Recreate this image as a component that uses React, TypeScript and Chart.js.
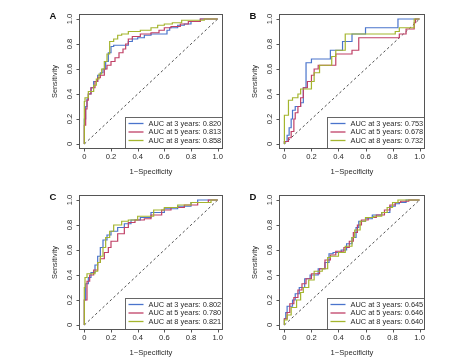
import React, { useEffect, useRef } from "react";
import { Chart, registerables } from "chart.js";

Chart.register(...registerables);

// ---------- data ----------
const tickValues = [0, 0.2, 0.4, 0.6, 0.8, 1.0];
const tickLabels = ["0", "0.2", "0.4", "0.6", "0.8", "1.0"];
const xTitle = "1\u2212Specificity";
const yTitle = "Sensitivity";
const seriesLabels = ["AUC at 3 years", "AUC at 5 years", "AUC at 8 years"];
const seriesColors = ["#4a74cc", "#c04066", "#a4b52e"];
const panelLetters = ["A", "B", "C", "D"];

const aucA = ["0.820", "0.813", "0.858"];
const aucB = ["0.753", "0.678", "0.732"];
const aucC = ["0.802", "0.780", "0.821"];
const aucD = ["0.645", "0.646", "0.640"];

type P = [number, number];

// Each pair: [1-specificity, sensitivity]
const rocA3: P[] = [[0,0],[0.01,0.2],[0.02,0.3],[0.03,0.36],[0.05,0.4],[0.07,0.45],[0.1,0.5],[0.12,0.55],[0.14,0.57],[0.16,0.6],[0.18,0.66],[0.2,0.73],[0.22,0.78],[0.33,0.79],[0.36,0.82],[0.4,0.84],[0.45,0.85],[0.5,0.87],[0.62,0.88],[0.64,0.91],[0.7,0.93],[0.75,0.95],[0.8,0.96],[0.87,0.98],[1,1]];
const rocA5: P[] = [[0,0],[0.01,0.15],[0.02,0.28],[0.03,0.35],[0.05,0.4],[0.08,0.45],[0.1,0.5],[0.12,0.53],[0.15,0.55],[0.17,0.6],[0.2,0.63],[0.23,0.66],[0.26,0.69],[0.29,0.73],[0.31,0.76],[0.33,0.8],[0.36,0.84],[0.42,0.86],[0.5,0.88],[0.56,0.89],[0.6,0.91],[0.65,0.93],[0.72,0.94],[0.78,0.96],[0.87,0.98],[1,1]];
const rocA8: P[] = [[0,0],[0.005,0.34],[0.03,0.37],[0.07,0.42],[0.09,0.47],[0.11,0.52],[0.13,0.56],[0.15,0.6],[0.17,0.66],[0.19,0.72],[0.22,0.82],[0.25,0.84],[0.28,0.87],[0.33,0.88],[0.42,0.9],[0.5,0.91],[0.55,0.93],[0.6,0.95],[0.66,0.96],[0.73,0.97],[0.9,0.99],[1,1]];

const rocB3: P[] = [[0,0],[0.02,0.02],[0.035,0.07],[0.05,0.13],[0.06,0.2],[0.08,0.27],[0.12,0.3],[0.14,0.33],[0.16,0.45],[0.2,0.65],[0.34,0.68],[0.43,0.75],[0.5,0.82],[0.6,0.88],[0.84,0.93],[1,1]];
const rocB5: P[] = [[0,0],[0.03,0.02],[0.05,0.05],[0.07,0.1],[0.08,0.2],[0.1,0.25],[0.12,0.3],[0.14,0.37],[0.17,0.45],[0.2,0.5],[0.22,0.55],[0.25,0.6],[0.38,0.63],[0.5,0.72],[0.55,0.75],[0.85,0.85],[0.9,0.88],[0.96,0.92],[0.97,0.97],[1,1]];
const rocB8: P[] = [[0,0],[0.03,0.23],[0.06,0.35],[0.1,0.37],[0.12,0.4],[0.2,0.44],[0.22,0.5],[0.26,0.57],[0.35,0.63],[0.38,0.7],[0.45,0.75],[0.82,0.88],[0.85,0.9],[0.96,0.93],[1,1]];

const rocC3: P[] = [[0,0],[0.01,0.2],[0.03,0.33],[0.05,0.38],[0.08,0.42],[0.1,0.48],[0.12,0.55],[0.14,0.62],[0.17,0.68],[0.2,0.72],[0.25,0.75],[0.3,0.78],[0.35,0.81],[0.42,0.84],[0.5,0.86],[0.6,0.9],[0.7,0.93],[0.8,0.95],[0.85,0.98],[0.95,1],[1,1]];
const rocC5: P[] = [[0,0],[0.02,0.2],[0.04,0.35],[0.07,0.4],[0.1,0.44],[0.12,0.5],[0.15,0.53],[0.18,0.58],[0.2,0.62],[0.25,0.67],[0.3,0.73],[0.33,0.78],[0.38,0.82],[0.45,0.84],[0.5,0.85],[0.58,0.88],[0.65,0.92],[0.75,0.94],[0.85,0.96],[0.93,0.98],[1,1]];
const rocC8: P[] = [[0,0],[0.005,0.3],[0.02,0.38],[0.08,0.41],[0.1,0.43],[0.12,0.5],[0.14,0.55],[0.16,0.62],[0.19,0.7],[0.22,0.75],[0.28,0.8],[0.33,0.83],[0.4,0.84],[0.52,0.87],[0.6,0.92],[0.7,0.94],[0.8,0.96],[0.95,0.98],[1,1]];

const rocD3: P[] = [[0,0],[0.01,0.05],[0.02,0.1],[0.06,0.15],[0.08,0.2],[0.11,0.25],[0.15,0.3],[0.19,0.37],[0.25,0.4],[0.3,0.45],[0.33,0.5],[0.36,0.57],[0.42,0.58],[0.46,0.6],[0.5,0.65],[0.53,0.7],[0.55,0.78],[0.6,0.83],[0.65,0.85],[0.72,0.88],[0.78,0.9],[0.82,0.95],[0.85,0.97],[0.9,0.98],[1,1]];
const rocD5: P[] = [[0,0],[0.02,0.05],[0.04,0.1],[0.07,0.17],[0.1,0.22],[0.13,0.28],[0.16,0.33],[0.2,0.37],[0.26,0.41],[0.3,0.45],[0.34,0.52],[0.38,0.56],[0.44,0.59],[0.48,0.62],[0.51,0.67],[0.54,0.74],[0.57,0.8],[0.62,0.84],[0.68,0.86],[0.74,0.88],[0.78,0.92],[0.82,0.96],[0.86,0.98],[0.92,0.99],[1,1]];
const rocD8: P[] = [[0,0],[0.02,0.04],[0.05,0.08],[0.09,0.14],[0.12,0.2],[0.14,0.26],[0.18,0.3],[0.22,0.36],[0.28,0.43],[0.32,0.45],[0.34,0.54],[0.4,0.55],[0.45,0.58],[0.5,0.63],[0.52,0.7],[0.56,0.76],[0.6,0.83],[0.66,0.86],[0.72,0.87],[0.76,0.9],[0.8,0.94],[0.84,0.98],[0.9,1],[1,1]];

const diagonal: P[] = [[0, 0], [1, 1]];

// ---------- rendering ----------
const FONT = '"Liberation Sans", Arial, sans-serif';
const TEXT = "#2a2a2a";
const AXIS = "#555555";

interface PanelProps {
  letter: string;
  curves: P[][];
  aucs: string[];
  left: number;
  top: number;
  width: number;
  height: number;
  pad: { left: number; top: number; right: number; bottom: number };
}

function Panel(props: PanelProps) {
  const ref = useRef<HTMLCanvasElement | null>(null);
  useEffect(() => {
    const canvas = ref.current;
    if (!canvas) return;

    const decor = {
      id: "rDecor",
      afterDraw(chart: any) {
        const ctx: CanvasRenderingContext2D = chart.ctx;
        const a = chart.chartArea;
        const xs = chart.scales.x;
        const ys = chart.scales.y;
        ctx.save();
        const L = Math.round(a.left) + 0.5;
        const T = Math.round(a.top) + 0.5;
        const R = Math.round(a.right) - 0.5;
        const B = Math.round(a.bottom) - 0.5;
        // legend
        const lgL = Math.round(a.right - 98) + 0.5;
        const lgT = Math.round(a.bottom - 32) + 0.5;
        ctx.fillStyle = "#ffffff";
        ctx.fillRect(lgL, lgT, R - lgL, B - lgT);
        ctx.strokeStyle = "#666666";
        ctx.lineWidth = 1;
        ctx.strokeRect(lgL, lgT, R - lgL, B - lgT);
        const rowOff = [25.5, 17, 8.5];
        ctx.font = `7.4px ${FONT}`;
        ctx.textAlign = "left";
        ctx.textBaseline = "middle";
        for (let i = 0; i < 3; i++) {
          const yy = a.bottom - rowOff[i];
          ctx.strokeStyle = seriesColors[i];
          ctx.lineWidth = 1.3;
          ctx.beginPath();
          ctx.moveTo(lgL + 3, yy);
          ctx.lineTo(lgL + 18, yy);
          ctx.stroke();
          ctx.fillStyle = TEXT;
          ctx.fillText(`${seriesLabels[i]}: ${props.aucs[i]}`, lgL + 23, yy + 0.3);
        }
        // box
        ctx.strokeStyle = AXIS;
        ctx.lineWidth = 1;
        ctx.strokeRect(L, T, R - L, B - T);
        // ticks
        ctx.beginPath();
        for (const v of tickValues) {
          const px = Math.round(xs.getPixelForValue(v)) + 0.5;
          ctx.moveTo(px, B);
          ctx.lineTo(px, B + 3);
          const py = Math.round(ys.getPixelForValue(v)) + 0.5;
          ctx.moveTo(L, py);
          ctx.lineTo(L - 3, py);
        }
        ctx.stroke();
        ctx.fillStyle = TEXT;
        ctx.font = `7.6px ${FONT}`;
        ctx.textAlign = "center";
        ctx.textBaseline = "middle";
        tickValues.forEach((v, i) => {
          ctx.fillText(tickLabels[i], xs.getPixelForValue(v), a.bottom + 7.5);
          ctx.save();
          ctx.translate(a.left - 9, ys.getPixelForValue(v));
          ctx.rotate(-Math.PI / 2);
          ctx.fillText(tickLabels[i], 0, 0);
          ctx.restore();
        });
        // titles
        ctx.font = `7.6px ${FONT}`;
        ctx.fillText(xTitle, (a.left + a.right) / 2, a.bottom + 23);
        ctx.save();
        ctx.translate(a.left - 24, (a.top + a.bottom) / 2);
        ctx.rotate(-Math.PI / 2);
        ctx.font = `7.3px ${FONT}`;
        ctx.fillText(yTitle, 0, 0);
        ctx.restore();
        // panel letter
        ctx.font = `bold 9.5px ${FONT}`;
        ctx.textAlign = "left";
        ctx.fillStyle = "#111111";
        ctx.fillText(props.letter, a.left - 29.5, a.top + 2.5);
        ctx.restore();
      },
    };

    const datasets: any[] = props.curves.map((c, i) => ({
      label: seriesLabels[i],
      data: c.map(([x, y]) => ({ x, y })),
      borderColor: seriesColors[i],
      borderWidth: 1.2,
      pointRadius: 0,
      stepped: "after",
      fill: false,
      order: 3 - i,
    }));
    datasets.push({
      label: "diag",
      data: diagonal.map(([x, y]) => ({ x, y })),
      borderColor: "#3a3a3a",
      borderWidth: 0.9,
      borderDash: [2.5, 2.5],
      pointRadius: 0,
      fill: false,
      order: 10,
    });

    const chart = new Chart(canvas, {
      type: "line",
      data: { datasets },
      options: {
        animation: false,
        responsive: false,
        devicePixelRatio: 1,
        layout: { padding: props.pad },
        plugins: { legend: { display: false }, tooltip: { enabled: false } },
        events: [],
        scales: {
          x: { type: "linear", min: -0.04, max: 1.04, display: false },
          y: { type: "linear", min: -0.04, max: 1.04, display: false },
        },
      },
      plugins: [decor],
    } as any);
    return () => chart.destroy();
  }, []);

  return (
    <canvas
      ref={ref}
      width={props.width}
      height={props.height}
      style={{
        position: "absolute",
        left: props.left,
        top: props.top,
        width: props.width,
        height: props.height,
      }}
    />
  );
}

export default function App() {
  return (
    <div
      style={{
        position: "absolute",
        left: 0,
        top: 0,
        width: 474,
        height: 363,
        background: "#ffffff",
        overflow: "hidden",
      }}
    >
      <Panel letter={panelLetters[0]} curves={[rocA3, rocA5, rocA8]} aucs={aucA}
        left={0} top={0} width={237} height={180}
        pad={{ left: 79, top: 14, right: 14, bottom: 31 }} />
      <Panel letter={panelLetters[1]} curves={[rocB3, rocB5, rocB8]} aucs={aucB}
        left={237} top={0} width={237} height={180}
        pad={{ left: 42, top: 14, right: 49, bottom: 31 }} />
      <Panel letter={panelLetters[2]} curves={[rocC3, rocC5, rocC8]} aucs={aucC}
        left={0} top={180} width={237} height={183}
        pad={{ left: 79, top: 15, right: 14, bottom: 33 }} />
      <Panel letter={panelLetters[3]} curves={[rocD3, rocD5, rocD8]} aucs={aucD}
        left={237} top={180} width={237} height={183}
        pad={{ left: 42, top: 15, right: 49, bottom: 33 }} />
    </div>
  );
}
